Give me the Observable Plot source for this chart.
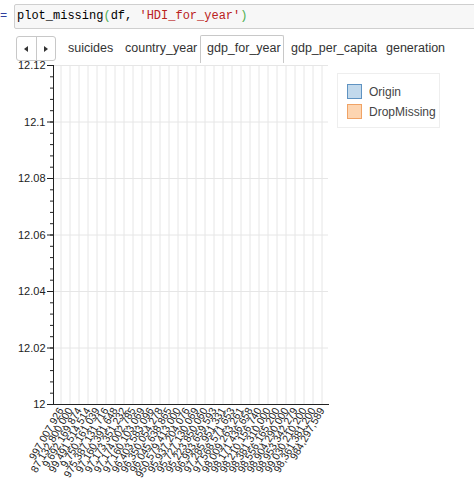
<!DOCTYPE html>
<html><head><meta charset="utf-8">
<script src="https://cdn.jsdelivr.net/npm/d3@7"></script>
<script src="https://cdn.jsdelivr.net/npm/@observablehq/plot@0.6"></script>
<style>
body{margin:0;width:474px;height:482px;overflow:hidden;background:#fff;position:relative;font-family:"Liberation Sans",Arial,sans-serif;}
.abs{position:absolute;}
#cell{left:14px;top:4px;width:470px;height:25px;background:#f7f7f7;border:1px solid #cfcfcf;border-radius:2px;box-sizing:border-box;}
#code{left:17px;top:9px;font-family:"Liberation Mono","Courier New",monospace;font-size:12px;line-height:14px;color:#000;white-space:pre;}
#prompt{left:0px;top:9px;font-family:"Liberation Mono",monospace;font-size:12px;line-height:14px;color:#303f9f;}
.tab{position:absolute;top:41px;font-size:12.5px;line-height:15px;color:#333;}
#active{left:200px;top:35px;width:84px;height:28px;border:1px solid #c8c8c8;border-bottom:none;background:#fff;box-sizing:border-box;border-radius:2px 2px 0 0;}
#arrows{left:16px;top:36px;width:40px;height:25px;border:1px solid #c8c8c8;border-radius:3px;box-sizing:border-box;}
#arrows .div{position:absolute;left:19px;top:0;width:1px;height:23px;background:#c8c8c8;}
#legend{left:337px;top:73px;width:103px;height:55px;border:1px solid #eeeeee;box-sizing:border-box;background:#fff;}
.sw{position:absolute;left:9px;width:15px;height:15px;box-sizing:border-box;}
.lt{position:absolute;left:31px;font-size:12px;line-height:14px;color:#444;}
#chart{left:0;top:56px;}
</style></head>
<body>
<div id="prompt" class="abs">=</div>
<div id="cell" class="abs"></div>
<div id="code" class="abs">plot_missing<span style="color:#4caf50">(</span>df, <span style="color:#ba2121">'HDI_for_year'</span><span style="color:#4caf50">)</span></div>
<div id="arrows" class="abs"><div class="div"></div>
<svg width="40" height="25" style="position:absolute;left:0;top:0"></svg>
</div>
<div id="active" class="abs"></div>
<div id="tabs"></div>
<div id="chart" class="abs"></div>
<div id="legend" class="abs"></div>
<script>
// Tabs of the widget
const tabNames = ["suicides", "country_year", "gdp_for_year", "gdp_per_capita", "generation"];
const tabLeft = [68, 125, 207, 291, 386];
// Legend entries
const legendNames = ["Origin", "DropMissing"];
const legendFill = ["#c2d9ec", "#fdd5b1"];
const legendStroke = ["#5f93c2", "#f0a366"];
// x categories (gdp_for_year values), y axis ticks
const categories = [
  "997,007,926", "87,132,800,000", "9,692,169,874", "99,491,514,514", "9,750,161,039",
  "975,387,131,716", "97,160,391,648", "97,173,351,232", "97,174,002,785", "97,160,103,069",
  "96,403,583,096", "96,350,054,278", "96,045,638,865", "950,579,413,000", "95,937,204,076",
  "95,727,130,069", "95,223,850,060", "96,993,659,593", "97,285,951,331", "97,568,571,653",
  "98,009,263,261", "98,171,436,658", "98,210,156,740", "98,381,310,000", "98,556,165,200",
  "98,904,290,000", "98,953,342,279", "99,030,210,200", "98,361,381,200", "984,297,589"
];
const yMajor = [12, 12.02, 12.04, 12.06, 12.08, 12.1, 12.12];
const yMinor = d3.range(0, 31).map(i => 12 + i * 0.004);

// arrows
const arr = document.querySelector("#arrows svg");
arr.innerHTML = '<path d="M7,12 L11,9 L11,15 Z" fill="#333"/><path d="M31,12 L27,9 L27,15 Z" fill="#333"/>';

const tabs = document.getElementById("tabs");
tabNames.forEach((t, i) => {
  const d = document.createElement("div");
  d.className = "tab"; d.textContent = t; d.style.left = tabLeft[i] + "px";
  tabs.appendChild(d);
});
const lg = document.getElementById("legend");
legendNames.forEach((n, i) => {
  const s = document.createElement("div");
  s.className = "sw"; s.style.top = (10 + i * 20) + "px";
  s.style.background = legendFill[i]; s.style.border = "1px solid " + legendStroke[i];
  lg.appendChild(s);
  const l = document.createElement("div");
  l.className = "lt"; l.textContent = n; l.style.top = (11 + i * 20) + "px";
  lg.appendChild(l);
});

const chart = Plot.plot({
  width: 474, height: 426,
  marginLeft: 53, marginRight: 146, marginTop: 9, marginBottom: 78,
  style: {fontFamily: "Liberation Sans, Arial, sans-serif", fontSize: "10px", color: "#222", background: "transparent", overflow: "visible"},
  x: {type: "band", domain: categories, padding: 0},
  y: {domain: [12, 12.12]},
  marks: [
    Plot.gridX(categories, {stroke: "#e6e6e6", strokeOpacity: 1}),
    Plot.gridY(yMajor, {stroke: "#e6e6e6", strokeOpacity: 1}),
    Plot.axisY(yMinor, {tickSize: 3, tickFormat: () => "", stroke: "#222", label: null}),
    Plot.axisY(yMajor, {tickSize: 6, tickPadding: 2, tickFormat: d => String(+d.toFixed(2)), fontSize: 11, fill: "#222", stroke: "#222", label: null}),
    Plot.axisX(categories, {tickSize: 0, tickPadding: 4, tickRotate: -60, fontSize: 10.5, fill: "#222", label: null}),
    Plot.frame({anchor: "left", stroke: "#222"}),
    Plot.frame({anchor: "bottom", stroke: "#222"})
  ]
});
document.getElementById("chart").appendChild(chart);
</script>
</body></html>
